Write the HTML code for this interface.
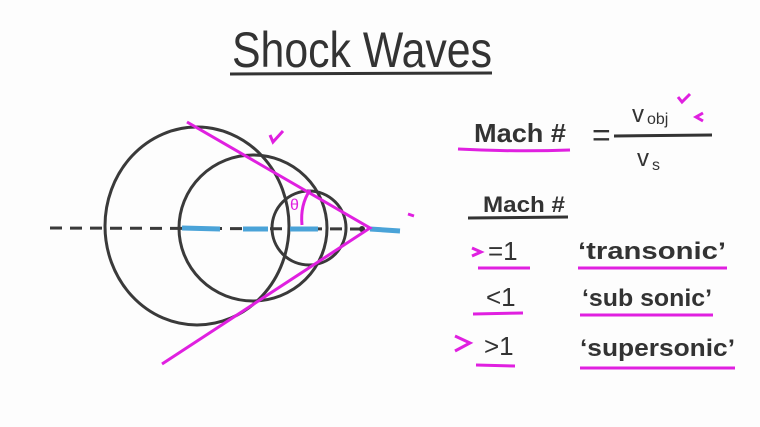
<!DOCTYPE html>
<html><head><style>
html,body{margin:0;padding:0;background:#fff;}
svg{display:block}
text{font-family:"Liberation Sans",sans-serif;fill:#333;}
</style></head><body>
<svg width="760" height="427" viewBox="0 0 760 427">
<rect width="760" height="427" fill="#fdfdfd"/>
<text x="232" y="67" font-size="50" textLength="260" lengthAdjust="spacingAndGlyphs">Shock Waves</text>
<path d="M230 74 L492 73" stroke="#333" stroke-width="3" fill="none"/>
<g stroke="#3a3a3a" stroke-width="3" fill="none">
<ellipse cx="197" cy="226" rx="92" ry="99"/>
<ellipse cx="253" cy="228" rx="74" ry="73"/>
<circle cx="309" cy="228" r="37"/>
<path d="M50 228 L365 229" stroke-dasharray="12 8"/>
</g>
<g stroke="#4aa3d8" stroke-width="5" fill="none">
<path d="M182 228 L220 229"/><path d="M243 229 L268 229"/><path d="M290 229 L318 229"/><path d="M370 229 L400 231"/>
</g>
<circle cx="362" cy="229" r="3" fill="#333"/>
<g stroke="#e020e0" stroke-width="3" fill="none">
<path d="M187 122 L370 228 L162 364"/>
<path d="M310 190 Q300 205 302 225"/>
<path d="M270 135 L273 142 L283 131"/>
<path d="M408 214 L414 216"/>
<path d="M458 149 Q515 152 570 150"/>
<path d="M678 97 L682 102 L690 94"/><path d="M703 113 L696 117 L703 121"/>
<path d="M472 248 L481 252 L472 256"/><path d="M455 336 L470 343 L455 351"/>
<path d="M478 268 L530 268"/><path d="M578 268 L727 268"/>
<path d="M473 314 L523 313"/><path d="M580 315 L713 315"/>
<path d="M476 365 L515 366"/><path d="M580 368 L735 368"/>
</g>
<text x="290" y="210" font-size="16" style="fill:#e020e0">θ</text>
<text x="474" y="142" font-size="26" font-weight="bold" textLength="92" lengthAdjust="spacingAndGlyphs">Mach #</text>
<text x="592" y="146" font-size="32">=</text>
<text x="632" y="122" font-size="24">v</text><text x="647" y="124" font-size="16">obj</text>
<path d="M614 136 L712 135" stroke="#333" stroke-width="3"/>
<text x="637" y="166" font-size="24">v</text><text x="652" y="170" font-size="16">s</text>
<text x="483" y="212" font-size="22" font-weight="bold" textLength="82" lengthAdjust="spacingAndGlyphs">Mach #</text>
<path d="M468 218 L568 217" stroke="#333" stroke-width="3"/>
<text x="488" y="260" font-size="26">=1</text>
<text x="578" y="259" font-size="24" font-weight="bold" textLength="148" lengthAdjust="spacingAndGlyphs">‘transonic’</text>
<text x="486" y="306" font-size="26">&lt;1</text>
<text x="582" y="306" font-size="24" font-weight="bold" textLength="130" lengthAdjust="spacingAndGlyphs">‘sub sonic’</text>
<text x="484" y="355" font-size="26">&gt;1</text>
<text x="580" y="356" font-size="24" font-weight="bold" textLength="155" lengthAdjust="spacingAndGlyphs">‘supersonic’</text>
</svg>
</body></html>
